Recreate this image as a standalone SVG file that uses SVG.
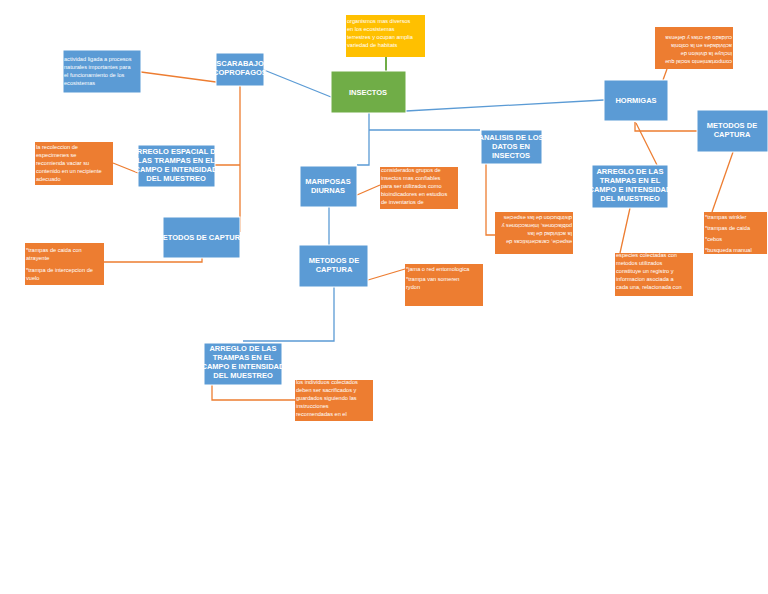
<svg xmlns="http://www.w3.org/2000/svg" width="768" height="594" viewBox="0 0 768 594">
<style>
.b{fill:#5b9bd5;stroke:#fff;stroke-width:1}
.o{fill:#ed7d31}
.y{fill:#ffc000}
.g{fill:#70ad47}
.t{font-family:"Liberation Sans",Arial,sans-serif;font-size:7.5px;font-weight:bold;fill:#fff;text-anchor:middle}
.s{font-family:"Liberation Sans",Arial,sans-serif;font-size:5.6px;fill:#fff}
.lb{fill:none;stroke:#5b9bd5;stroke-width:1.3}
.lo{fill:none;stroke:#ed7d31;stroke-width:1.3}
.lg{fill:none;stroke:#70ad47;stroke-width:2}
</style>
<rect width="768" height="594" fill="#fff"/>
<g id="connectors">
<path class="lg" d="M386 57V71"/>
<path class="lb" d="M264 70L331 97"/>
<path class="lb" d="M406 111L604 100"/>
<path class="lb" d="M369 113V165H357M369 130H480"/>
<path class="lb" d="M329 207V245"/>
<path class="lb" d="M334 287V341H243"/>
<path class="lo" d="M212 385V400H295"/>
<path class="lo" d="M357 195L380 185"/>
<path class="lo" d="M368 280L405 269"/>
<path class="lo" d="M216 82L141 72"/>
<path class="lo" d="M240 86V232M215 165H240"/>
<path class="lo" d="M138 173L113 163"/>
<path class="lo" d="M202 258V262H104"/>
<path class="lo" d="M486 164V235H495"/>
<path class="lo" d="M663 80L667 69"/>
<path class="lo" d="M697 131H635V122"/>
<path class="lo" d="M657 165L636 123"/>
<path class="lo" d="M630 208L620 253"/>
<path class="lo" d="M733 152L712 212"/>
</g>
<g id="n-yellow"><rect class="y" x="346" y="15" width="79" height="42"/>
<text class="s"><tspan x="347" y="23">organismos mas diversos</tspan><tspan x="347" y="31">en los ecosistemas</tspan><tspan x="347" y="39">terrestres y ocupan amplia</tspan><tspan x="347" y="47">variedad de habitats</tspan></text></g>
<g id="n-insectos"><rect class="g" x="331" y="71" width="75" height="42" stroke="#fff"/><text class="t" x="368" y="95" font-size="8">INSECTOS</text></g>
<g id="n-escarabajos"><rect class="b" x="216" y="53" width="48" height="33"/><text class="t"><tspan x="240" y="66">ESCARABAJOS</tspan><tspan x="240" y="75">COPROFAGOS</tspan></text></g>
<g id="n-actividad"><rect class="b" x="63" y="50" width="78" height="43"/>
<text class="s"><tspan x="64" y="61">actividad ligada a procesos</tspan><tspan x="64" y="69">naturales importantes para</tspan><tspan x="64" y="77">el funcionamiento de los</tspan><tspan x="64" y="85">ecosistemas</tspan></text></g>
<g id="n-arreglo1"><rect class="b" x="138" y="145" width="77" height="42"/><text class="t"><tspan x="176" y="154">ARREGLO ESPACIAL DE</tspan><tspan x="176" y="163">LAS TRAMPAS EN EL</tspan><tspan x="176" y="172">CAMPO E INTENSIDAD</tspan><tspan x="176" y="181">DEL MUESTREO</tspan></text></g>
<g id="n-recoleccion"><rect class="o" x="35" y="142" width="78" height="43"/>
<text class="s"><tspan x="36" y="149">la recoleccion de</tspan><tspan x="36" y="157">especimenes se</tspan><tspan x="36" y="165">recomienda vaciar su</tspan><tspan x="36" y="173">contenido en un recipiente</tspan><tspan x="36" y="181">adecuado</tspan></text></g>
<g id="n-metodos1"><rect class="b" x="163" y="217" width="77" height="41"/><text class="t" x="201" y="240">METODOS DE CAPTURA</text></g>
<g id="n-trampas1"><rect class="o" x="25" y="243" width="79" height="42"/>
<text class="s"><tspan x="26" y="252">*trampas de caida con</tspan><tspan x="26" y="260">atrayente</tspan><tspan x="26" y="272">*trampa de intercepcion de</tspan><tspan x="26" y="280">vuelo</tspan></text></g>
<g id="n-mariposas"><rect class="b" x="300" y="166" width="57" height="41"/><text class="t"><tspan x="328" y="184">MARIPOSAS</tspan><tspan x="328" y="193">DIURNAS</tspan></text></g>
<g id="n-mariposas-txt"><rect class="o" x="380" y="167" width="78" height="42"/>
<text class="s"><tspan x="381" y="172">considerados grupos de</tspan><tspan x="381" y="180">insectos mas confiables</tspan><tspan x="381" y="188">para ser utilizados como</tspan><tspan x="381" y="196">bioindicadores en estudios</tspan><tspan x="381" y="204">de inventarios de</tspan></text></g>
<g id="n-metodos2"><rect class="b" x="299" y="245" width="69" height="42"/><text class="t"><tspan x="334" y="263">METODOS DE</tspan><tspan x="334" y="272">CAPTURA</tspan></text></g>
<g id="n-jama"><rect class="o" x="405" y="264" width="78" height="42"/>
<text class="s"><tspan x="406" y="271">*jama o red entomologica</tspan><tspan x="406" y="281">*trampa van someren</tspan><tspan x="406" y="289">rydon</tspan></text></g>
<g id="n-arreglo2"><rect class="b" x="204" y="343" width="78" height="42"/><text class="t"><tspan x="243" y="351">ARREGLO  DE LAS</tspan><tspan x="243" y="360">TRAMPAS EN EL</tspan><tspan x="243" y="369">CAMPO E INTENSIDAD</tspan><tspan x="243" y="378">DEL MUESTREO</tspan></text></g>
<g id="n-bottom"><rect class="o" x="295" y="380" width="78" height="41"/>
<text class="s"><tspan x="296" y="384">los individuos colectados</tspan><tspan x="296" y="392">deben ser sacrificados y</tspan><tspan x="296" y="400">guardados siguiendo las</tspan><tspan x="296" y="408">instrucciones</tspan><tspan x="296" y="416">recomendadas en el</tspan></text></g>
<g id="n-analisis"><rect class="b" x="481" y="130" width="61" height="34"/><text class="t"><tspan x="511" y="140">ANALISIS DE LOS</tspan><tspan x="511" y="149">DATOS EN</tspan><tspan x="511" y="158">INSECTOS</tspan></text></g>
<g id="n-analisis-txt"><rect class="o" x="495" y="212" width="78" height="42"/>
<text class="s" transform="rotate(180 534 233)"><tspan x="496" y="226">especie, caracteristicas de</tspan><tspan x="496" y="234">la actividad de las</tspan><tspan x="496" y="242">poblaciones, interacciones y</tspan><tspan x="496" y="250">distribucion de las especies</tspan></text></g>
<g id="n-hormigas"><rect class="b" x="604" y="80" width="64" height="41"/><text class="t" x="636" y="103">HORMIGAS</text></g>
<g id="n-hormigas-txt"><rect class="o" x="655" y="27" width="78" height="42"/>
<text class="s" transform="rotate(180 694 48)"><tspan x="656" y="36">comportamiento social que</tspan><tspan x="656" y="44">incluye la division de</tspan><tspan x="656" y="52">actividades en la colonia</tspan><tspan x="656" y="60">cuidado de crias y defensa</tspan></text></g>
<g id="n-metodos3"><rect class="b" x="697" y="110" width="71" height="42"/><text class="t"><tspan x="732" y="128">METODOS DE</tspan><tspan x="732" y="137">CAPTURA</tspan></text></g>
<g id="n-arreglo3"><rect class="b" x="592" y="165" width="76" height="43"/><text class="t"><tspan x="630" y="174">ARREGLO DE LAS</tspan><tspan x="630" y="183">TRAMPAS EN EL</tspan><tspan x="630" y="192">CAMPO E INTENSIDAD</tspan><tspan x="630" y="201">DEL MUESTREO</tspan></text></g>
<g id="n-arreglo3-txt"><rect class="o" x="615" y="253" width="78" height="43"/>
<text class="s"><tspan x="616" y="257">especies colectadas con</tspan><tspan x="616" y="265">metodos utilizados</tspan><tspan x="616" y="273">constituye un registro y</tspan><tspan x="616" y="281">informacion asociada a</tspan><tspan x="616" y="289">cada una, relacionada con</tspan></text></g>
<g id="n-winkler"><rect class="o" x="704" y="212" width="63" height="42"/>
<text class="s"><tspan x="705" y="219">*trampas winkler</tspan><tspan x="705" y="230">*trampas de caida</tspan><tspan x="705" y="241">*cebos</tspan><tspan x="705" y="252">*busqueda manual</tspan></text></g>
</svg>
